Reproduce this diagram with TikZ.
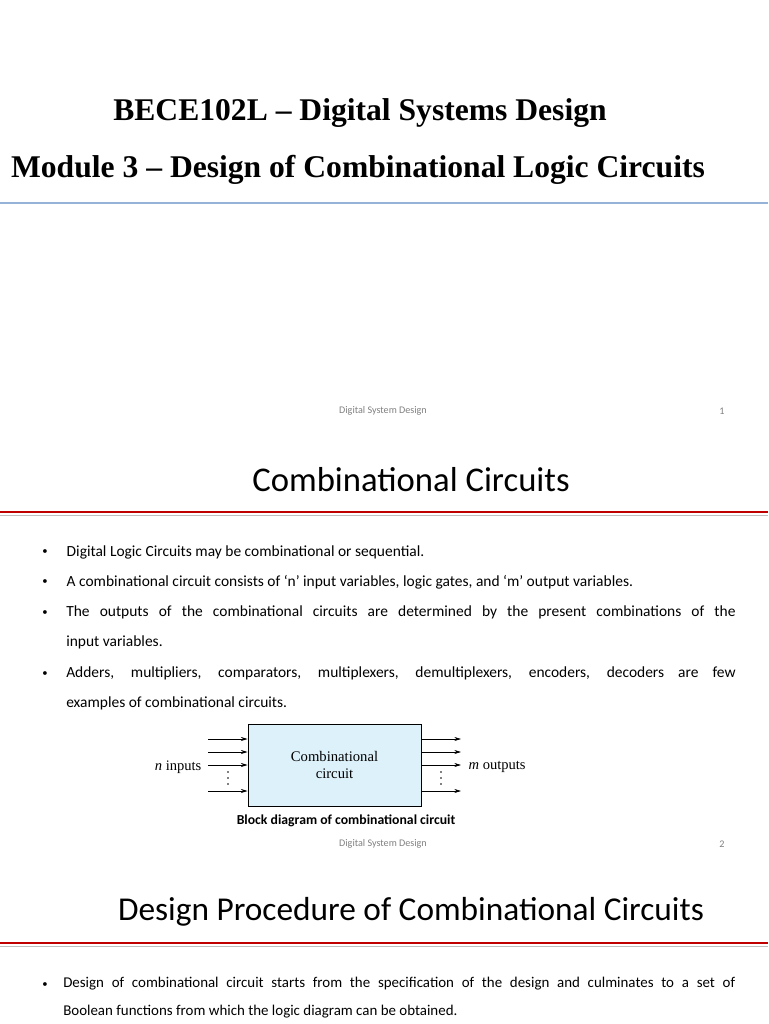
\documentclass[tikz,border=0pt]{standalone}
\usepackage{fontspec}
\setmainfont{Carlito}
\newfontfamily\tnr{Liberation Serif}
\usetikzlibrary{arrows.meta}
\definecolor{slidered}{HTML}{C00000}
\definecolor{slideblue}{HTML}{95B3D7}
\definecolor{boxfill}{HTML}{DDF1FA}
\hyphenpenalty=10000
\exhyphenpenalty=10000
\tikzset{
  ttl/.style={font=\tnr\bfseries\fontsize{23.7}{27}\selectfont},
  head/.style={font=\fontsize{26}{30}\selectfont},
  body/.style={font=\fontsize{11.6}{13}\selectfont, anchor=west},
  para/.style={text width=502pt, align=justify, anchor=north west, inner sep=0pt,
     font=\fontsize{11.6}{23}\selectfont},
  bul/.style={font=\fontsize{8}{10}\selectfont},
  foot/.style={font=\fontsize{7.6}{9}\selectfont, text=gray},
  sig/.style={-{Stealth[length=5pt,width=3pt]}, line width=0.5pt},
  dot/.style={fill=black, circle, inner sep=0pt, minimum size=1.2pt},
}
\begin{document}
\begin{tikzpicture}[x=0.75pt,y=-0.75pt]
\useasboundingbox (0,0) rectangle (768,1024);
\fill[white] (0,0) rectangle (768,1024);
% slide 1
\node[ttl] (t1) at (360,113) {BECE102L – Digital Systems Design};
\node[ttl] (t2) at (358,170) {Module 3 – Design of Combinational Logic Circuits};
\draw[slideblue, line width=2pt] (0,203) -- (768,203);
\node[foot] (f1) at (383,411) {Digital System Design};
\node[foot] (p1) at (722,411) {1};
% slide 2
\node[head] (h2) at (411,480) {Combinational Circuits};
\draw[slidered, line width=2.2pt] (0,512) -- (768,512);
\draw[gray!50, line width=0.6pt] (0,515.5) -- (768,515.5);
\foreach \y in {552,582,613,674} \node[bul] at (45,\y) {•};
\node[body] at (62,552) {Digital Logic Circuits may be combinational or sequential.};
\node[body] at (62,582) {A combinational circuit consists of ‘n’ input variables, logic gates, and ‘m’ output variables.};
\node[para] at (66,605) {The outputs of the combinational circuits are determined by the present combinations of the\linebreak input variables.};
\node[para] at (66,666) {Adders, multipliers, comparators, multiplexers, demultiplexers, encoders, decoders are few\linebreak examples of combinational circuits.};
% block diagram
\node[draw, fill=boxfill, line width=0.6pt, minimum width=129.75pt, minimum height=61.5pt, align=center,
      font=\tnr\fontsize{11}{12.5}\selectfont] (cc) at (334.5,765) {Combinational\\circuit};
\foreach \y [count=\i] in {739,752,765,791} {
  \coordinate (i\i) at (208,\y);
  \coordinate (o\i) at (461,\y);
  \draw[sig] (i\i) -- (i\i -| cc.west);
  \draw[sig] (o\i -| cc.east) -- (o\i);
}
\foreach \y in {772,778,784} {
  \node[dot] at (228,\y) {};
  \node[dot] at (441,\y) {};
}
\node[anchor=east, font=\tnr\fontsize{10.9}{12}\selectfont] (ni) at (206,767) {\textit{n} inputs};
\node[anchor=west, font=\tnr\fontsize{10.9}{12}\selectfont] (mo) at (464,767) {\textit{m} outputs};
\node[font=\bfseries\fontsize{10.3}{12}\selectfont] (cap) at (346,821) {Block diagram of combinational circuit};
\node[foot] (f2) at (383,844) {Digital System Design};
\node[foot] (p2) at (722,844) {2};
% slide 3
\node[head, font=\fontsize{25}{29}\selectfont] (h3) at (411,912) {Design Procedure of Combinational Circuits};
\draw[slidered, line width=2.2pt] (0,943) -- (768,943);
\draw[gray!50, line width=0.6pt] (0,946.5) -- (768,946.5);
\node[bul] at (45,985) {•};
\node[para, text width=504pt, font=\fontsize{11.2}{21}\selectfont] at (63,977) {Design of combinational circuit starts from the specification of the design and culminates to a set of\linebreak Boolean functions from which the logic diagram can be obtained.};
\end{tikzpicture}
\end{document}
